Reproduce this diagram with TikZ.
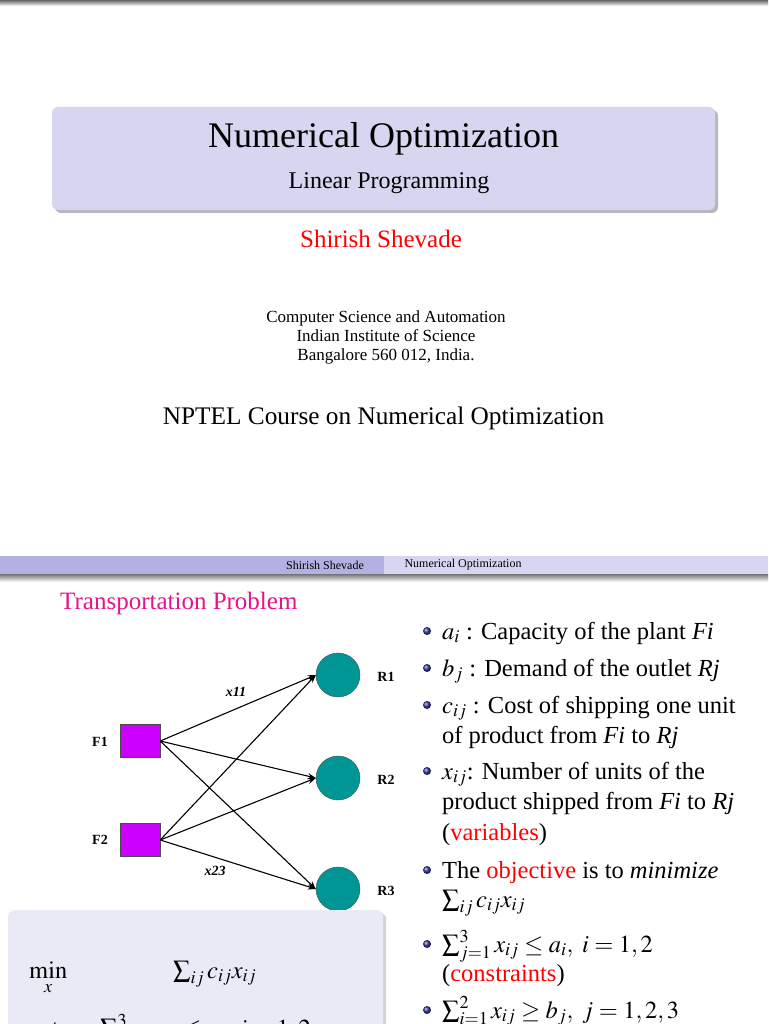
\documentclass[tikz,border=0pt]{standalone}
\usepackage{mathptmx}
\usepackage{fontspec}
\setmainfont{Liberation Serif}
\usetikzlibrary{arrows.meta,shadows}
\definecolor{lav}{RGB}{214,214,240}
\definecolor{lavdark}{RGB}{178,178,226}
\definecolor{boxbg}{RGB}{234,234,246}
\definecolor{teal}{RGB}{0,150,150}
\definecolor{mag}{RGB}{204,0,255}
\definecolor{titlemag}{RGB}{230,20,140}
\definecolor{ballc}{RGB}{50,50,150}
\tikzset{
  plant/.style={draw=black!70,fill=mag,minimum width=40pt,minimum height=33pt,inner sep=0},
  outlet/.style={circle,draw=black!70,fill=teal,minimum size=44pt,inner sep=0},
  flow/.style={-{Stealth[length=8pt,width=6pt]},line width=1.1pt},
  lbl/.style={font=\fontsize{14}{14}\selectfont\bfseries},
  bl/.style={anchor=base west,font=\fontsize{24.5}{30}\selectfont,inner sep=0},
  ball/.style={circle,inner sep=0,minimum size=8pt,ball color=ballc,draw=none},
}
\begin{document}
\begin{tikzpicture}[x=1pt,y=-1pt]
\useasboundingbox (0,0) rectangle (768,1024);
\fill[white] (0,0) rectangle (768,1024);
\shade[top color=black!60,bottom color=white] (0,0) rectangle (768,6);
\node[fill=lav,rounded corners=6pt,drop shadow={shadow xshift=3pt,shadow yshift=-3pt,fill=black!55},minimum width=663pt,minimum height=103pt,inner sep=0] (tbox) at (383.5,158.5) {};
\node[font=\fontsize{36}{36}\selectfont] (title) at (383.5,139) {Numerical Optimization};
\node[font=\fontsize{24}{24}\selectfont] (sub) at (389,183) {Linear Programming};
\node[font=\fontsize{25}{25}\selectfont,text=red] (author) at (381,239) {Shirish Shevade};
\node[font=\fontsize{17}{19}\selectfont,align=center] (aff) at (386,337) {Computer Science and Automation\\Indian Institute of Science\\Bangalore 560 012, India.};
\node[font=\fontsize{25.3}{25}\selectfont] (nptel) at (383.5,418) {NPTEL Course on Numerical Optimization};
\fill[lavdark] (0,556) rectangle (384,574);
\fill[lav] (384,556) rectangle (768,574);
\shade[top color=black!55,bottom color=white] (0,574) rectangle (768,582);
\node[font=\fontsize{12}{12}\selectfont] (f1) at (325,565) {Shirish Shevade};
\node[font=\fontsize{12}{12}\selectfont] (f2) at (463,565) {Numerical Optimization};
\node[anchor=base west,inner sep=0,font=\fontsize{25}{25}\selectfont,text=titlemag] (stitle) at (60,609) {Transportation Problem};
\node[plant] (F1) at (140,741) {};
\node[plant] (F2) at (140,840) {};
\node[outlet] (R1) at (338,675) {};
\node[outlet] (R2) at (338,778) {};
\node[outlet] (R3) at (338,889) {};
\node[lbl] at (100,742) {F1};
\node[lbl] at (100,840) {F2};
\node[lbl] at (386,677) {R1};
\node[lbl] at (386,780) {R2};
\node[lbl] at (386,891) {R3};
\node[lbl,font=\fontsize{14}{14}\selectfont\bfseries\itshape] at (236,692) {x11};
\node[lbl,font=\fontsize{14}{14}\selectfont\bfseries\itshape] at (215,871) {x23};
\foreach \f in {F1,F2}{\foreach \r in {R1,R2,R3}{\draw[flow] (\f.east) -- (\r.west);}}
\begin{scope}
\clip (0,0) rectangle (768,1024);
\node[fill=boxbg,rounded corners=6pt,drop shadow={shadow xshift=3pt,shadow yshift=-3pt,fill=black!35},minimum width=375pt,minimum height=140pt,inner sep=0,anchor=north west] (lp) at (8,910) {};
\node[anchor=base west,inner sep=0,font=\fontsize{24.5}{24}\selectfont] (min) at (29,978) {$\displaystyle\min_x$};
\node[anchor=base west,inner sep=0,font=\fontsize{24.5}{24}\selectfont] (obj) at (173,978) {$\sum_{ij} c_{ij}x_{ij}$};
\node[anchor=base west,inner sep=0,font=\fontsize{24.5}{24}\selectfont] (st) at (36,1036) {s.t.};
\node[anchor=base west,inner sep=0,font=\fontsize{24.5}{24}\selectfont] (c1) at (100,1036) {$\sum_{j=1}^3 x_{ij}\le a_i,\ i=1,2$};
\end{scope}
\foreach \y in {631,668,705,771,870,944,1010}{\node[ball] at (427,\y) {};}
\node[bl] at (442,639) {$a_i$ : Capacity of the plant \textit{Fi}};
\node[bl] at (442,676) {$b_j$ : Demand of the outlet \textit{Rj}};
\node[bl] at (442,713) {$c_{ij}$ : Cost of shipping one unit};
\node[bl] at (442,743) {of product from \textit{Fi} to \textit{Rj}};
\node[bl] at (442,779) {$x_{ij}$: Number of units of the};
\node[bl] at (442,809) {product shipped from \textit{Fi} to \textit{Rj}};
\node[bl] at (442,840) {(\textcolor{red}{variables})};
\node[bl] at (442,878) {The \textcolor{red}{objective} is to \textit{minimize}};
\node[bl] at (442,907) {$\sum_{ij} c_{ij}x_{ij}$};
\node[bl] at (442,952) {$\sum_{j=1}^3 x_{ij} \le a_i,\ i=1,2$};
\node[bl] at (442,981) {(\textcolor{red}{constraints})};
\node[bl] at (442,1018) {$\sum_{i=1}^2 x_{ij} \ge b_j,\ j=1,2,3$};
\end{tikzpicture}
\end{document}
